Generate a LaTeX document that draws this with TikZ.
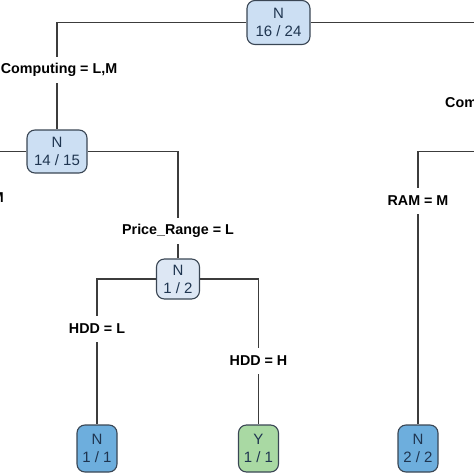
\documentclass[tikz,border=0pt]{standalone}
\usepackage{fontspec}
\setmainfont{Liberation Sans}
\begin{document}
\begin{tikzpicture}[x=1pt,y=-1pt,
  edge/.style={draw=linegray,line width=1.25pt},
  tnode/.style={draw=bordergray,line width=1.1pt,rounded corners=8pt,
    text=nodetext,align=center,inner sep=0pt,
    font=\fontsize{15}{18}\selectfont},
  lbl/.style={fill=white,inner sep=3pt,minimum height=26pt,
    font=\bfseries\fontsize{14.3}{16}\selectfont,text=black}]
\definecolor{linegray}{HTML}{3C3C3C}
\definecolor{bordergray}{HTML}{3A4654}
\definecolor{nodetext}{HTML}{1F3550}
\definecolor{intfill}{HTML}{CCDFF3}
\definecolor{intlight}{HTML}{DDE7F4}
\definecolor{leafblue}{HTML}{6DAEDD}
\definecolor{leafgreen}{HTML}{A9D9A3}
\useasboundingbox (0,0) rectangle (474,474);
\clip (0,0) rectangle (474,474);

% nodes
\node[tnode,fill=intfill,minimum width=63pt,minimum height=44pt] (root) at (278.5,22.5) {N\\16 / 24};
\node[tnode,fill=intfill,minimum width=60pt,minimum height=43pt] (n1415) at (57,151.5) {N\\14 / 15};
\node[tnode,fill=intlight,minimum width=43pt,minimum height=40pt] (n12) at (178,279) {N\\1 / 2};
\node[tnode,fill=leafblue,minimum width=40pt,minimum height=47pt] (leafA) at (97,448.5) {N\\1 / 1};
\node[tnode,fill=leafgreen,minimum width=40pt,minimum height=47pt] (leafY) at (258.5,448.5) {Y\\1 / 1};
\node[tnode,fill=leafblue,minimum width=40pt,minimum height=47pt] (leafN) at (418,448.5) {N\\2 / 2};

\coordinate (rootR) at (490,22.5);
\coordinate (offL) at (-16,151.5);
\coordinate (offR) at (490,151.5);

% connectors
\draw[edge] (root.west) -| (n1415.north);
\draw[edge] (root.east) -- (rootR);
\draw[edge] (n1415.west) -- (offL);
\draw[edge] (n1415.east) -| (n12.north);
\draw[edge] (n12.west) -| (leafA.north);
\draw[edge] (n12.east) -| (leafY.north);
\draw[edge] (offR) -| (leafN.north);

% labels
\node[lbl] (lcomp) at (59,70) {Computing = L,M};
\node[lbl] (lprice) at (178,231) {Price\_Range = L};
\node[lbl] (lhddl) at (97,329) {HDD = L};
\node[lbl] (lhddh) at (258.5,361) {HDD = H};
\node[lbl] (lram) at (418,201) {RAM = M};
\node[lbl,anchor=west,inner sep=0pt] (lcomR) at (445,103) {Com};
\node[lbl,anchor=east,inner sep=0pt] (lmL) at (4,198) {M};
\end{tikzpicture}
\end{document}
